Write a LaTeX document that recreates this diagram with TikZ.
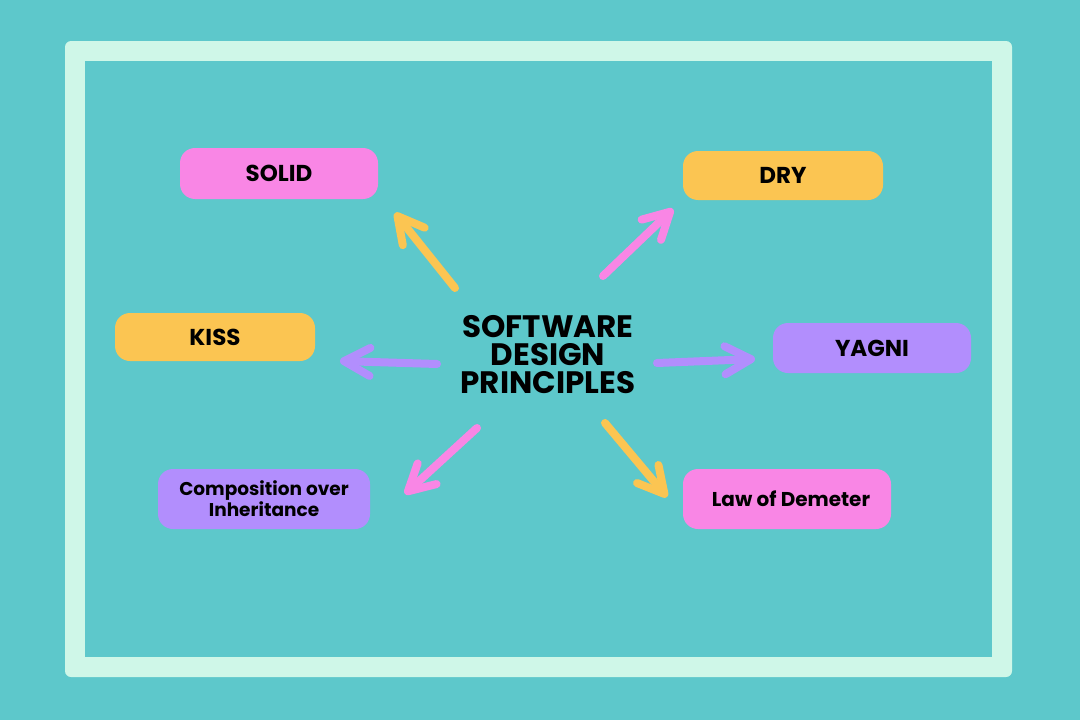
\documentclass[tikz,border=0pt]{standalone}
\usepackage{fontspec}
\setmainfont{Poppins}
\usetikzlibrary{arrows.meta}
\definecolor{bgteal}{HTML}{5DC8CB}
\definecolor{mint}{HTML}{CFF7E8}
\definecolor{pinkc}{HTML}{F986E5}
\definecolor{yellowc}{HTML}{FBC552}
\definecolor{purplec}{HTML}{B28EFD}
\tikzset{
	box/.style={rounded corners=15pt,inner sep=0pt,align=center,font=\fontsize{23}{24}\selectfont\bfseries},
	smallbox/.style={box,font=\fontsize{18.5}{21}\selectfont\bfseries},
	arr/.style={line width=8pt,line cap=round,-{Straight Barb[round,length=26pt,width=28pt]}}
}
\begin{document}
\begin{tikzpicture}[x=1pt,y=-1pt]
	\useasboundingbox (0,0) rectangle (1080,720);
	\fill[bgteal] (0,0) rectangle (1080,720);
	\fill[mint,rounded corners=6pt] (65,41) rectangle (1012,677);
	\fill[bgteal] (85,61) rectangle (992,657);
	% title
	\node[align=center,font=\fontsize{31}{28}\selectfont\bfseries] (title) at (548,355) {SOFTWARE\\DESIGN\\PRINCIPLES};
	% boxes
	\node[box,fill=pinkc,minimum width=198pt,minimum height=51pt] (solid) at (279,173.5) {SOLID};
	\node[box,fill=yellowc,minimum width=200pt,minimum height=49pt] (dry) at (783,175.5) {DRY};
	\node[box,fill=yellowc,minimum width=200pt,minimum height=48pt] (kiss) at (215,337) {KISS};
	\node[box,fill=purplec,minimum width=198pt,minimum height=50pt] (yagni) at (872,348) {YAGNI};
	\node[smallbox,fill=purplec,minimum width=212pt,minimum height=60pt] (comp) at (264,499) {Composition over\\Inheritance};
	\node[smallbox,fill=pinkc,minimum width=208pt,minimum height=60pt,font=\fontsize{20}{21}\selectfont\bfseries] (law) at (787,499) {\hspace{8pt}Law of Demeter};
	% arrows
	\foreach \nm/\tx/\ty/\hx/\hy/\col in {solid/455/288/395/213/yellowc, dry/603/276/673/209/pinkc, kiss/437/364/340/361/purplec, yagni/657/363/755/359/purplec, comp/477/428/405/494/pinkc, law/605/423/667/497/yellowc}{
		\coordinate (\nm-from) at (\tx,\ty);
		\coordinate (\nm-to) at (\hx,\hy);
		\draw[arr,\col] (\nm-from) -- (\nm-to);
	}
\end{tikzpicture}
\end{document}
